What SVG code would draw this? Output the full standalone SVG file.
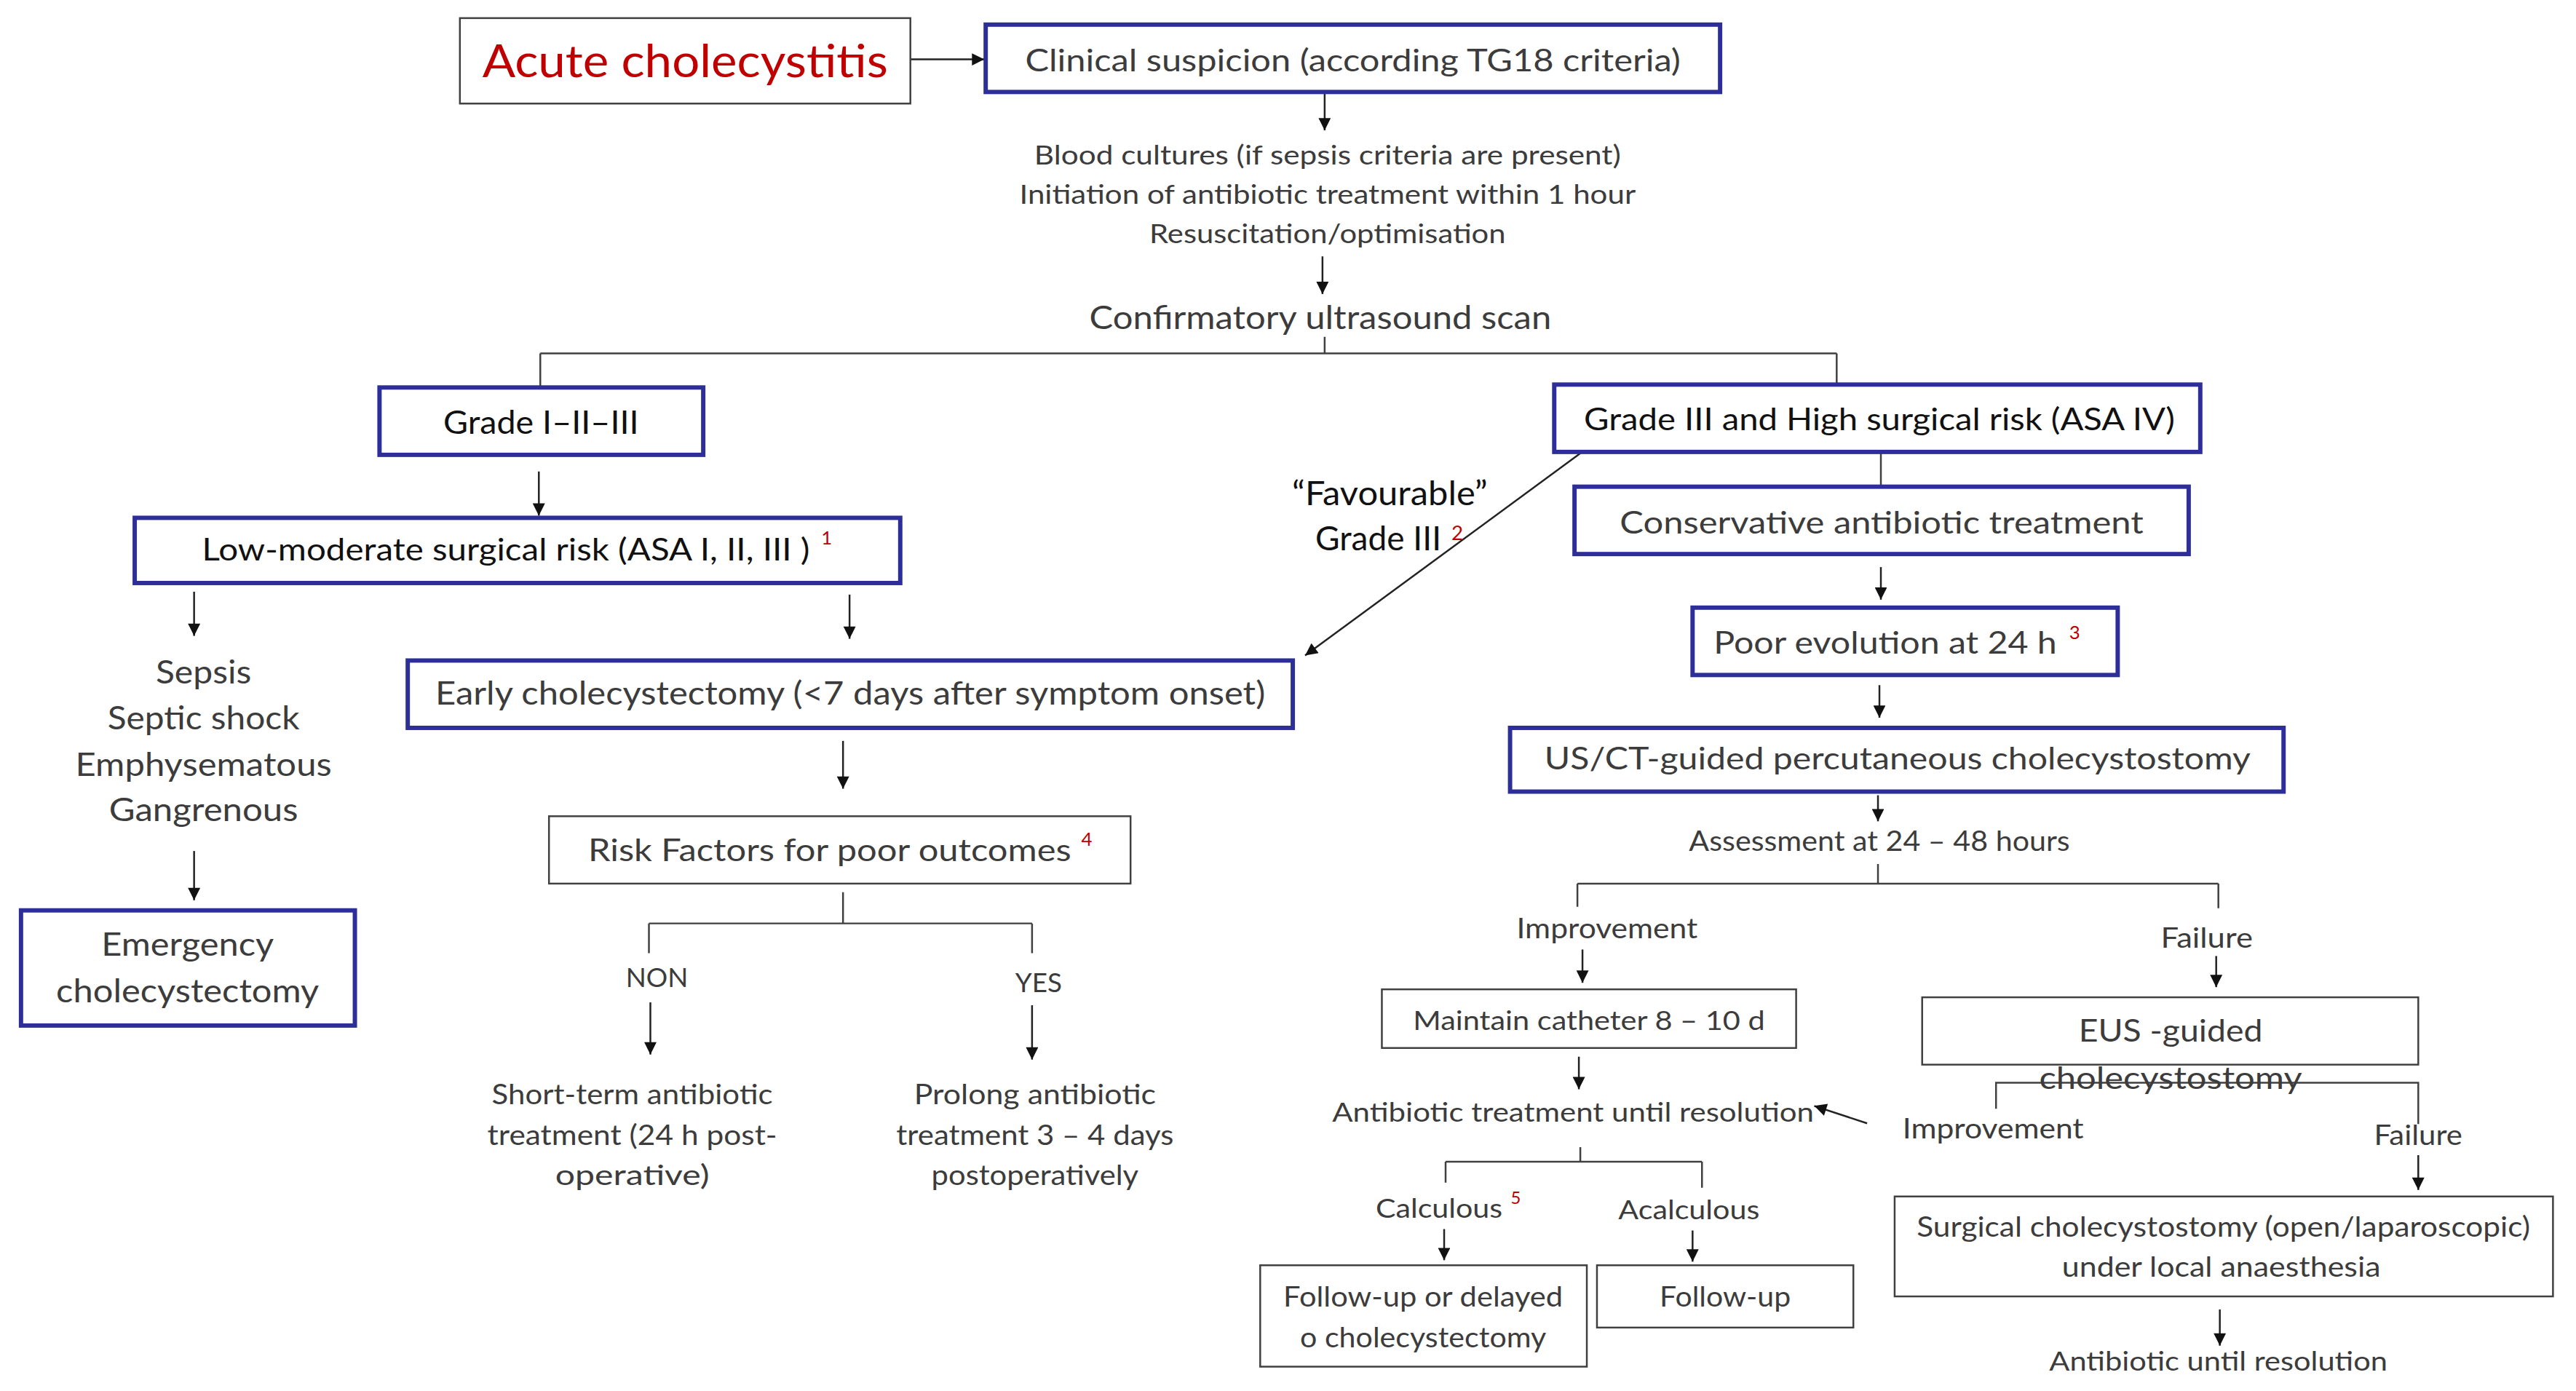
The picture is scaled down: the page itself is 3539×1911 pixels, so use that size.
<svg xmlns="http://www.w3.org/2000/svg" width="3539" height="1911" viewBox="0 0 3539 1911">
<style>
text{font-family:Lato,"Liberation Sans",Arial,sans-serif;fill:#3c3c3c}
.m{text-anchor:middle}
.d{fill:#111}
.r{fill:#c00000}
.bx{fill:#fff;stroke:#2e2e99;stroke-width:6}
.gx{fill:#fff;stroke:#404040;stroke-width:2.5}
.c{stroke:#404040;stroke-width:2.5;fill:none}
.a{stroke:#222;stroke-width:2.5;fill:none;marker-end:url(#ah)}
.s38{font-size:38px}
.s42{font-size:42px}
.s45{font-size:45px}
</style>
<defs>
<marker id="ah" viewBox="0 0 10 10" refX="10" refY="5" markerWidth="22" markerHeight="17" markerUnits="userSpaceOnUse" orient="auto">
<path d="M0,0 L10,5 L0,10 z" fill="#111"/>
</marker>
</defs>
<rect width="3539" height="1911" fill="#fff"/>
<g transform="scale(0.995)">
<g id="connectors">
<line class="a" x1="1257" y1="82" x2="1359" y2="82"/>
<line class="a" x1="1829" y1="129" x2="1829" y2="180"/>
<line class="a" x1="1826" y1="354" x2="1826" y2="406"/>
<path class="c" d="M1829,465 V488 M746,488 H2536 M746,488 V535 M2536,488 V531"/>
<line class="a" x1="744" y1="651" x2="744" y2="712"/>
<line class="a" x1="268" y1="817" x2="268" y2="878"/>
<line class="a" x1="1173" y1="821" x2="1173" y2="882"/>
<line class="a" x1="268" y1="1175" x2="268" y2="1243"/>
<line class="a" x1="2182" y1="626" x2="1802" y2="905"/>
<line class="c" x1="2597" y1="624" x2="2597" y2="672"/>
<line class="a" x1="2597" y1="783" x2="2597" y2="828"/>
<line class="a" x1="2595" y1="946" x2="2595" y2="991"/>
<line class="a" x1="2593" y1="1098" x2="2593" y2="1134"/>
<path class="c" d="M2593,1193 V1220 M2178,1220 H3063 M2178,1220 V1252 M3063,1220 V1254"/>
<line class="a" x1="2185" y1="1311" x2="2185" y2="1357"/>
<line class="a" x1="3060" y1="1320" x2="3060" y2="1363"/>
<path class="c" d="M2756,1531 V1495 H3339 V1552"/>
<line class="a" x1="2180" y1="1459" x2="2180" y2="1504"/>
<line class="a" x1="2578" y1="1551" x2="2505" y2="1527"/>
<line class="a" x1="3339" y1="1595" x2="3339" y2="1643"/>
<line class="a" x1="3065" y1="1808" x2="3065" y2="1858"/>
<path class="c" d="M2182,1584 V1604 M1996,1604 H2350 M1996,1604 V1633 M2350,1604 V1640"/>
<line class="a" x1="1994" y1="1697" x2="1994" y2="1740"/>
<line class="a" x1="2337" y1="1699" x2="2337" y2="1742"/>
<line class="a" x1="1164" y1="1023" x2="1164" y2="1089"/>
<path class="c" d="M1164,1232 V1275 M896,1275 H1425 M896,1275 V1316 M1425,1275 V1316"/>
<line class="a" x1="898" y1="1384" x2="898" y2="1456"/>
<line class="a" x1="1425" y1="1388" x2="1425" y2="1463"/>
</g>

<g id="acute">
<rect class="gx" x="635" y="25" width="622" height="118"/>
<text class="m r" x="946" y="107" font-size="62" textLength="560" lengthAdjust="spacingAndGlyphs">Acute cholecystitis</text>
</g>
<g id="clinical">
<rect class="bx" x="1361" y="34" width="1014" height="93"/>
<text class="m s42" x="1868" y="98" textLength="905" lengthAdjust="spacingAndGlyphs">Clinical suspicion (according TG18 criteria)</text>
</g>
<g id="initial-steps">
<text class="m" font-size="36" x="1833" y="227" textLength="810" lengthAdjust="spacingAndGlyphs">Blood cultures (if sepsis criteria are present)</text>
<text class="m" font-size="36" x="1833" y="281" textLength="851" lengthAdjust="spacingAndGlyphs">Initiation of antibiotic treatment within 1 hour</text>
<text class="m" font-size="36" x="1833" y="336" textLength="492" lengthAdjust="spacingAndGlyphs">Resuscitation/optimisation</text>
</g>
<g id="ultrasound">
<text class="m s45" x="1823" y="454" textLength="638" lengthAdjust="spacingAndGlyphs">Confirmatory ultrasound scan</text>
</g>
<g id="grade-1-3">
<rect class="bx" x="524" y="535" width="447" height="93"/>
<text class="m d" font-size="44" x="747" y="599" textLength="270" lengthAdjust="spacingAndGlyphs">Grade I–II–III</text>
</g>
<g id="low-moderate">
<rect class="bx" x="186" y="715" width="1057" height="90"/>
<text class="d s42" x="279" y="774" textLength="839" lengthAdjust="spacingAndGlyphs">Low-moderate surgical risk (ASA I, II, III )</text>
<text class="r" font-size="26" x="1134" y="752">1</text>
</g>
<g id="severity">
<text class="m s45" x="281" y="944" textLength="132" lengthAdjust="spacingAndGlyphs">Sepsis</text>
<text class="m s45" x="281" y="1007" textLength="265" lengthAdjust="spacingAndGlyphs">Septic shock</text>
<text class="m s45" x="281" y="1071" textLength="354" lengthAdjust="spacingAndGlyphs">Emphysematous</text>
<text class="m s45" x="281" y="1134" textLength="261" lengthAdjust="spacingAndGlyphs">Gangrenous</text>
</g>
<g id="emergency">
<rect class="bx" x="29" y="1257" width="461" height="159"/>
<text class="m s45" x="259" y="1320" textLength="238" lengthAdjust="spacingAndGlyphs">Emergency</text>
<text class="m s45" x="259" y="1384" textLength="363" lengthAdjust="spacingAndGlyphs">cholecystectomy</text>
</g>
<g id="early">
<rect class="bx" x="563" y="912" width="1222" height="93"/>
<text class="m" font-size="44" x="1174" y="973" textLength="1146" lengthAdjust="spacingAndGlyphs">Early cholecystectomy (&lt;7 days after symptom onset)</text>
</g>
<g id="favourable">
<text class="m d" font-size="46" x="1919" y="697" textLength="270" lengthAdjust="spacingAndGlyphs">“Favourable”</text>
<text class="d" font-size="46" x="1816" y="760" textLength="174" lengthAdjust="spacingAndGlyphs">Grade III</text>
<text class="r" font-size="28" x="2004" y="746">2</text>
</g>
<g id="grade-3-high">
<rect class="bx" x="2146" y="531" width="892" height="93"/>
<text class="m d s42" x="2595" y="594" textLength="816" lengthAdjust="spacingAndGlyphs">Grade III and High surgical risk (ASA IV)</text>
</g>
<g id="conservative">
<rect class="bx" x="2174" y="672" width="848" height="93"/>
<text class="m" font-size="43" x="2598" y="737" textLength="723" lengthAdjust="spacingAndGlyphs">Conservative antibiotic treatment</text>
</g>
<g id="poor-evolution">
<rect class="bx" x="2337" y="839" width="587" height="93"/>
<text font-size="43" x="2366" y="903" textLength="474" lengthAdjust="spacingAndGlyphs">Poor evolution at 24 h</text>
<text class="r" font-size="26" x="2857" y="882">3</text>
</g>
<g id="percutaneous">
<rect class="bx" x="2085" y="1005" width="1068" height="88"/>
<text class="m s42" x="2620" y="1062" textLength="975" lengthAdjust="spacingAndGlyphs">US/CT-guided percutaneous cholecystostomy</text>
</g>
<g id="assessment">
<text class="m s38" x="2595" y="1175" textLength="526" lengthAdjust="spacingAndGlyphs">Assessment at 24 – 48 hours</text>
<text class="m s38" x="2219" y="1295" textLength="250" lengthAdjust="spacingAndGlyphs">Improvement</text>
<text class="m s38" x="3047" y="1309" textLength="127" lengthAdjust="spacingAndGlyphs">Failure</text>
</g>
<g id="maintain">
<rect class="gx" x="1908" y="1366" width="572" height="81"/>
<text class="m" font-size="37" x="2194" y="1422" textLength="486" lengthAdjust="spacingAndGlyphs">Maintain catheter 8 – 10 d</text>
</g>
<g id="eus">
<rect class="gx" x="2654" y="1377" width="685" height="93"/>
<text class="m s42" x="2997" y="1438" textLength="254" lengthAdjust="spacingAndGlyphs">EUS -guided</text>
<text class="m s42" x="2997" y="1504" textLength="363" lengthAdjust="spacingAndGlyphs">cholecystostomy</text>
</g>
<g id="antibiotic-resolution">
<text class="m" font-size="37" x="2172" y="1549" textLength="665" lengthAdjust="spacingAndGlyphs">Antibiotic treatment until resolution</text>
</g>
<g id="eus-outcomes">
<text class="s38" x="2627" y="1572" textLength="250" lengthAdjust="spacingAndGlyphs">Improvement</text>
<text class="m s38" x="3339" y="1581" textLength="122" lengthAdjust="spacingAndGlyphs">Failure</text>
</g>
<g id="surgical">
<rect class="gx" x="2616" y="1652" width="909" height="138"/>
<text class="m s38" x="3070" y="1708" textLength="847" lengthAdjust="spacingAndGlyphs">Surgical cholecystostomy (open/laparoscopic)</text>
<text class="m s38" x="3067" y="1763" textLength="440" lengthAdjust="spacingAndGlyphs">under local anaesthesia</text>
</g>
<g id="antibiotic-until">
<text class="m" font-size="37" x="3063" y="1892" textLength="467" lengthAdjust="spacingAndGlyphs">Antibiotic until resolution</text>
</g>
<g id="calculous-labels">
<text class="m" font-size="37" x="1987" y="1681" textLength="175" lengthAdjust="spacingAndGlyphs">Calculous</text>
<text class="r" font-size="24" x="2086" y="1662">5</text>
<text class="m" font-size="37" x="2332" y="1683" textLength="195" lengthAdjust="spacingAndGlyphs">Acalculous</text>
</g>
<g id="followup-delayed">
<rect class="gx" x="1740" y="1747" width="451" height="140"/>
<text class="m s38" x="1965" y="1804" textLength="386" lengthAdjust="spacingAndGlyphs">Follow-up or delayed</text>
<text class="m s38" x="1965" y="1860" textLength="340" lengthAdjust="spacingAndGlyphs">o cholecystectomy</text>
</g>
<g id="followup">
<rect class="gx" x="2205" y="1747" width="354" height="86"/>
<text class="m s38" x="2382" y="1804" textLength="181" lengthAdjust="spacingAndGlyphs">Follow-up</text>
</g>
<g id="risk-factors">
<rect class="gx" x="758" y="1127" width="803" height="93"/>
<text class="s42" x="812" y="1189" textLength="667" lengthAdjust="spacingAndGlyphs">Risk Factors for poor outcomes</text>
<text class="r" font-size="26" x="1493" y="1168">4</text>
</g>
<g id="risk-labels">
<text class="m" font-size="37" x="907" y="1363">NON</text>
<text class="m" font-size="37" x="1434" y="1370">YES</text>
</g>
<g id="short-term">
<text class="m s38" x="873" y="1525" textLength="388" lengthAdjust="spacingAndGlyphs">Short-term antibiotic</text>
<text class="m s38" x="873" y="1581" textLength="400" lengthAdjust="spacingAndGlyphs">treatment (24 h post-</text>
<text class="m s38" x="873" y="1636" textLength="213" lengthAdjust="spacingAndGlyphs">operative)</text>
</g>
<g id="prolong">
<text class="m s38" x="1429" y="1525" textLength="334" lengthAdjust="spacingAndGlyphs">Prolong antibiotic</text>
<text class="m s38" x="1429" y="1581" textLength="383" lengthAdjust="spacingAndGlyphs">treatment 3 – 4 days</text>
<text class="m s38" x="1429" y="1636" textLength="286" lengthAdjust="spacingAndGlyphs">postoperatively</text>
</g>
</g>
</svg>
